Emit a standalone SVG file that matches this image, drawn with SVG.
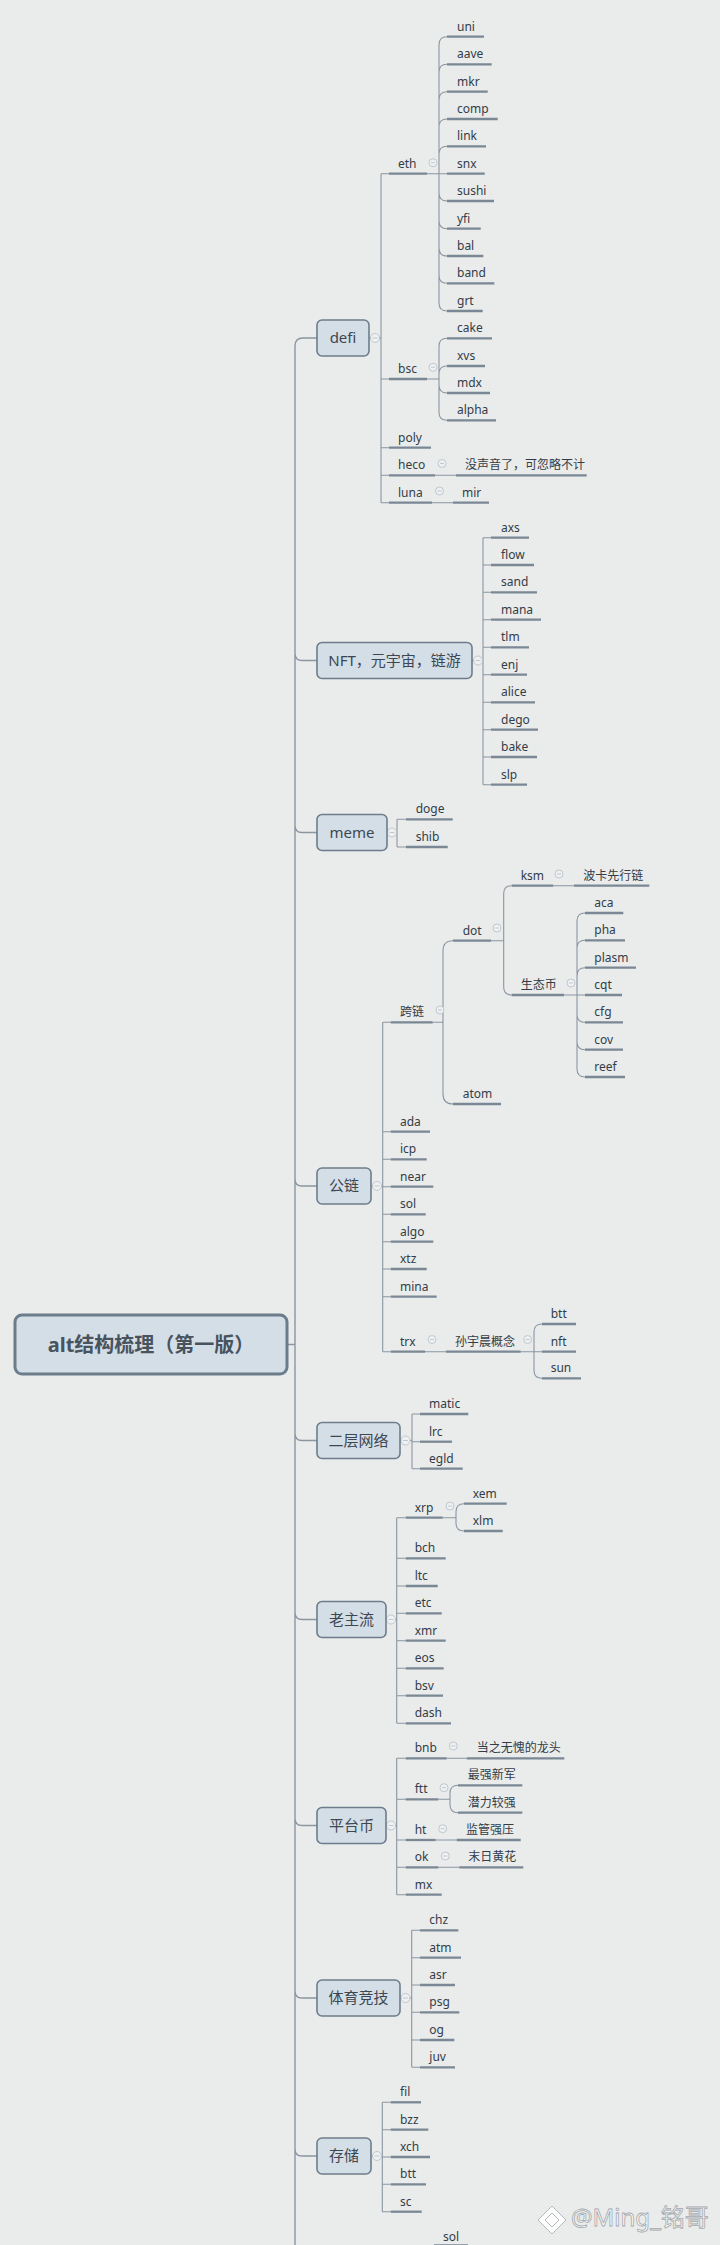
<svg xmlns="http://www.w3.org/2000/svg" width="720" height="2245" viewBox="0 0 720 2245">
<style>
.bg{fill:#eaebeb}
.box{fill:#d4dee7;stroke:#6d7d8b;stroke-width:1.6}
.rootbox{fill:#d4dee7;stroke:#6b7c8b;stroke-width:3}
.rt{font-family:"Noto Sans","Noto Sans CJK SC",sans-serif;font-size:20px;font-weight:bold;fill:#48535e;text-anchor:middle}
.bt{font-family:"Noto Sans","Noto Sans CJK SC",sans-serif;font-size:15px;fill:#3c4752;text-anchor:middle}
.lt{font-family:"Noto Sans","Noto Sans CJK SC",sans-serif;font-size:12px;fill:#333d47}
.ul{stroke:#7a8794;stroke-width:2.3;fill:none}
.cn{stroke:#8a96a1;stroke-width:1.1;fill:none}
.tk{stroke:#8a96a1;stroke-width:1.4;fill:none}
.cc{fill:#eef0f2;stroke:#b4bec7;stroke-width:0.8}
.cm{stroke:#b4bec7;stroke-width:0.8}
.wm{font-family:"Noto Sans","Noto Sans CJK SC",sans-serif;font-size:24px;fill:#ffffff;fill-opacity:0.85;stroke:#a3a9ae;stroke-width:0.8}
.wl{fill:#ffffff;fill-opacity:0.85;stroke:#a3a9ae;stroke-width:0.8}
</style>
<rect class="bg" x="0" y="0" width="720" height="2245"/>

<g id="connectors">
<path class="tk" d="M295 2245V346Q295 338 303 338H317 M287 1344.5H295 M295 653.5Q295 660.5 302 660.5H317 M295 825.5Q295 832.5 302 832.5H317 M295 1179Q295 1186 302 1186H317 M295 1433.5Q295 1440.5 302 1440.5H317 M295 1612.5Q295 1619.5 302 1619.5H317 M295 1818.5Q295 1825.5 302 1825.5H317 M295 1991Q295 1998 302 1998H317 M295 2149Q295 2156 302 2156H317"/>
<path class="cn" d="M369 338H381 M381 173.7V502.7 M381 173.7H389 M381 379H389 M381 447.7H389 M381 475.3H389 M381 502.7H389 M435 475.3H456 M432 502.7H453"/>
<path class="cn" d="M427 173.7H447 M439 173.7V44.7Q439 36.7 447 36.7 M439 173.7V72.3Q439 64.3 447 64.3 M439 173.7V99.7Q439 91.7 447 91.7 M439 173.7V127Q439 119 447 119 M439 173.7V154.3Q439 146.3 447 146.3 M439 173.7V193Q439 201 447 201 M439 173.7V220.7Q439 228.7 447 228.7 M439 173.7V248Q439 256 447 256 M439 173.7V275.3Q439 283.3 447 283.3 M439 173.7V303Q439 311 447 311"/>
<path class="cn" d="M427 379H439 M439 379V346.3Q439 338.3 447 338.3 M439 379V374Q439 366 447 366 M439 379V385Q439 393 447 393 M439 379V412.3Q439 420.3 447 420.3"/>
<path class="cn" d="M472 660.5H483 M483 537.7V784.7 M483 537.7H491 M483 565H491 M483 592.3H491 M483 619.7H491 M483 647.3H491 M483 674.7H491 M483 702.3H491 M483 729.7H491 M483 757H491 M483 784.7H491"/>
<path class="cn" d="M387 832.5H397 M397 819.3V847 M397 819.3H406 M397 847H406"/>
<path class="cn" d="M371 1186H382.7 M382.7 1022.3V1351.7 M382.7 1022.3H390.7 M382.7 1131.7H390.7 M382.7 1159.3H390.7 M382.7 1186.7H390.7 M382.7 1214.3H390.7 M382.7 1241.7H390.7 M382.7 1269H390.7 M382.7 1296.7H390.7 M382.7 1351.7H390.7"/>
<path class="cn" d="M432.7 1022.3H443 M443 1022.3V950.7Q443 940.7 453 940.7 M443 1022.3V1094Q443 1104 453 1104"/>
<path class="cn" d="M491 940.7H503.7 M503.7 940.7V893.7Q503.7 885.7 511.7 885.7 M503.7 940.7V987Q503.7 995 511.7 995 M553.3 885.7H574"/>
<path class="cn" d="M564 995H585 M577 995V921Q577 913 585 913 M577 995V948.3Q577 940.3 585 940.3 M577 995V975.7Q577 967.7 585 967.7 M577 995V1014.3Q577 1022.3 585 1022.3 M577 995V1041.7Q577 1049.7 585 1049.7 M577 995V1069Q577 1077 585 1077"/>
<path class="cn" d="M425 1351.7H446 M520.7 1351.7H542 M534 1351.7V1332Q534 1324 542 1324 M534 1351.7V1370.3Q534 1378.3 542 1378.3"/>
<path class="cn" d="M399.5 1440.5H412 M412 1414V1468.7 M412 1414H420 M412 1441.7H420 M412 1468.7H420"/>
<path class="cn" d="M386 1619.5H396.7 M396.7 1517.7V1723.3 M396.7 1517.7H405.7 M396.7 1558.3H405.7 M396.7 1586H405.7 M396.7 1613.3H405.7 M396.7 1640.7H405.7 M396.7 1668.3H405.7 M396.7 1695.7H405.7 M396.7 1723.3H405.7"/>
<path class="cn" d="M442.7 1517.7H456 M456 1517.7V1511.7Q456 1503.7 464 1503.7 M456 1517.7V1523Q456 1531 464 1531"/>
<path class="cn" d="M386 1825.5H396.7 M396.7 1758.3V1894.7 M396.7 1758.3H405.7 M396.7 1799.3H405.7 M396.7 1840H405.7 M396.7 1867.3H405.7 M396.7 1894.7H405.7 M446.7 1758.3H466.7 M435.7 1840H456.7 M438.3 1867.3H459.3"/>
<path class="cn" d="M438.3 1799.3H450 M450 1799.3V1793.3Q450 1785.3 458 1785.3 M450 1799.3V1804.7Q450 1812.7 458 1812.7"/>
<path class="cn" d="M400 1998H411.7 M411.7 1930.3V2067.3 M411.7 1930.3H420 M411.7 1957.7H420 M411.7 1985H420 M411.7 2012.3H420 M411.7 2040H420 M411.7 2067.3H420"/>
<path class="cn" d="M371 2156H382.3 M382.3 2102.3V2211.7 M382.3 2102.3H390.7 M382.3 2129.7H390.7 M382.3 2157H390.7 M382.3 2184.3H390.7 M382.3 2211.7H390.7"/>
</g>

<g id="collapse-icons">
<circle class="cc" cx="375" cy="338" r="4.5"/><path class="cm" d="M372.5 338H377.5"/>
<circle class="cc" cx="478" cy="660.5" r="4.5"/><path class="cm" d="M475.5 660.5H480.5"/>
<circle class="cc" cx="392" cy="832.5" r="4.5"/><path class="cm" d="M389.5 832.5H394.5"/>
<circle class="cc" cx="377" cy="1186" r="4.5"/><path class="cm" d="M374.5 1186H379.5"/>
<circle class="cc" cx="405.5" cy="1440.5" r="4.5"/><path class="cm" d="M403 1440.5H408"/>
<circle class="cc" cx="391" cy="1619.5" r="4.5"/><path class="cm" d="M388.5 1619.5H393.5"/>
<circle class="cc" cx="391" cy="1825.5" r="4.5"/><path class="cm" d="M388.5 1825.5H393.5"/>
<circle class="cc" cx="405.5" cy="1998" r="4.5"/><path class="cm" d="M403 1998H408"/>
<circle class="cc" cx="377" cy="2156" r="4.5"/><path class="cm" d="M374.5 2156H379.5"/>
<circle class="cc" cx="433" cy="162.7" r="4"/><path class="cm" d="M431 162.7H435"/>
<circle class="cc" cx="433" cy="367.3" r="4"/><path class="cm" d="M431 367.3H435"/>
<circle class="cc" cx="442" cy="463.5" r="4"/><path class="cm" d="M440 463.5H444"/>
<circle class="cc" cx="439.5" cy="491" r="4"/><path class="cm" d="M437.5 491H441.5"/>
<circle class="cc" cx="440" cy="1010" r="4"/><path class="cm" d="M438 1010H442"/>
<circle class="cc" cx="497" cy="928" r="4"/><path class="cm" d="M495 928H499"/>
<circle class="cc" cx="559" cy="874" r="4"/><path class="cm" d="M557 874H561"/>
<circle class="cc" cx="571" cy="983" r="4"/><path class="cm" d="M569 983H573"/>
<circle class="cc" cx="432" cy="1339.5" r="4"/><path class="cm" d="M430 1339.5H434"/>
<circle class="cc" cx="527.7" cy="1339.5" r="4"/><path class="cm" d="M525.7 1339.5H529.7"/>
<circle class="cc" cx="450" cy="1506" r="4"/><path class="cm" d="M448 1506H452"/>
<circle class="cc" cx="453.3" cy="1746" r="4"/><path class="cm" d="M451.3 1746H455.3"/>
<circle class="cc" cx="444" cy="1787.7" r="4"/><path class="cm" d="M442 1787.7H446"/>
<circle class="cc" cx="442.7" cy="1828.7" r="4"/><path class="cm" d="M440.7 1828.7H444.7"/>
<circle class="cc" cx="445.3" cy="1856" r="4"/><path class="cm" d="M443.3 1856H447.3"/>
</g>

<g id="root"><rect class="rootbox" x="15" y="1315" width="272" height="59" rx="7"/><text class="rt" x="151" y="1351.5">alt结构梳理（第一版）</text></g>

<g id="b-defi"><rect class="box" x="317" y="320" width="52" height="36" rx="5"/><text class="bt" x="343" y="343">defi</text></g>
<g id="b-nft"><rect class="box" x="317" y="642.5" width="155" height="36" rx="5"/><text class="bt" x="394.5" y="665.5">NFT，元宇宙，链游</text></g>
<g id="b-meme"><rect class="box" x="317" y="814.5" width="70" height="36" rx="5"/><text class="bt" x="352" y="837.5">meme</text></g>
<g id="b-gonglian"><rect class="box" x="317" y="1168" width="54" height="36" rx="5"/><text class="bt" x="344" y="1191">公链</text></g>
<g id="b-l2"><rect class="box" x="317" y="1422.5" width="83" height="36" rx="5"/><text class="bt" x="358.5" y="1445.5">二层网络</text></g>
<g id="b-old"><rect class="box" x="317" y="1601.5" width="69" height="36" rx="5"/><text class="bt" x="351.5" y="1624.5">老主流</text></g>
<g id="b-platform"><rect class="box" x="317" y="1807.5" width="69" height="36" rx="5"/><text class="bt" x="351.5" y="1830.5">平台币</text></g>
<g id="b-sport"><rect class="box" x="317" y="1980" width="83" height="36" rx="5"/><text class="bt" x="358.5" y="2003">体育竞技</text></g>
<g id="b-storage"><rect class="box" x="317" y="2138" width="54" height="36" rx="5"/><text class="bt" x="344" y="2161">存储</text></g>

<g id="defi-nodes">
<g id="n-eth"><text class="lt" x="398" y="167.7">eth</text><path class="ul" d="M389 173.7H427"/></g>
<g id="n-bsc"><text class="lt" x="398" y="373">bsc</text><path class="ul" d="M389 379H427"/></g>
<g id="n-poly"><text class="lt" x="398" y="441.7">poly</text><path class="ul" d="M389 447.7H431"/></g>
<g id="n-heco"><text class="lt" x="398" y="469.3">heco</text><path class="ul" d="M389 475.3H435"/></g>
<g id="n-luna"><text class="lt" x="398" y="496.7">luna</text><path class="ul" d="M389 502.7H432"/></g>
<g id="n-heco-note"><text class="lt" x="465" y="469.3">没声音了，可忽略不计</text><path class="ul" d="M456 475.3H586.7"/></g>
<g id="n-mir"><text class="lt" x="462" y="496.7">mir</text><path class="ul" d="M453 502.7H489"/></g>
<g id="n-uni"><text class="lt" x="457" y="30.7">uni</text><path class="ul" d="M447 36.7H484"/></g>
<g id="n-aave"><text class="lt" x="457" y="58.3">aave</text><path class="ul" d="M447 64.3H491.7"/></g>
<g id="n-mkr"><text class="lt" x="457" y="85.7">mkr</text><path class="ul" d="M447 91.7H487.7"/></g>
<g id="n-comp"><text class="lt" x="457" y="113">comp</text><path class="ul" d="M447 119H497.7"/></g>
<g id="n-link"><text class="lt" x="457" y="140.3">link</text><path class="ul" d="M447 146.3H486"/></g>
<g id="n-snx"><text class="lt" x="457" y="167.7">snx</text><path class="ul" d="M447 173.7H484.7"/></g>
<g id="n-sushi"><text class="lt" x="457" y="195">sushi</text><path class="ul" d="M447 201H494"/></g>
<g id="n-yfi"><text class="lt" x="457" y="222.7">yfi</text><path class="ul" d="M447 228.7H480.7"/></g>
<g id="n-bal"><text class="lt" x="457" y="250">bal</text><path class="ul" d="M447 256H483.3"/></g>
<g id="n-band"><text class="lt" x="457" y="277.3">band</text><path class="ul" d="M447 283.3H494.3"/></g>
<g id="n-grt"><text class="lt" x="457" y="305">grt</text><path class="ul" d="M447 311H482.7"/></g>
<g id="n-cake"><text class="lt" x="457" y="332.3">cake</text><path class="ul" d="M447 338.3H492"/></g>
<g id="n-xvs"><text class="lt" x="457" y="360">xvs</text><path class="ul" d="M447 366H485"/></g>
<g id="n-mdx"><text class="lt" x="457" y="387">mdx</text><path class="ul" d="M447 393H490"/></g>
<g id="n-alpha"><text class="lt" x="457" y="414.3">alpha</text><path class="ul" d="M447 420.3H496"/></g>
</g>

<g id="nft-nodes">
<g id="n-axs"><text class="lt" x="501" y="531.7">axs</text><path class="ul" d="M491 537.7H529"/></g>
<g id="n-flow"><text class="lt" x="501" y="559">flow</text><path class="ul" d="M491 565H534"/></g>
<g id="n-sand"><text class="lt" x="501" y="586.3">sand</text><path class="ul" d="M491 592.3H537"/></g>
<g id="n-mana"><text class="lt" x="501" y="613.7">mana</text><path class="ul" d="M491 619.7H541"/></g>
<g id="n-tlm"><text class="lt" x="501" y="641.3">tlm</text><path class="ul" d="M491 647.3H529"/></g>
<g id="n-enj"><text class="lt" x="501" y="668.7">enj</text><path class="ul" d="M491 674.7H527"/></g>
<g id="n-alice"><text class="lt" x="501" y="696.3">alice</text><path class="ul" d="M491 702.3H535"/></g>
<g id="n-dego"><text class="lt" x="501" y="723.7">dego</text><path class="ul" d="M491 729.7H538"/></g>
<g id="n-bake"><text class="lt" x="501" y="751">bake</text><path class="ul" d="M491 757H537"/></g>
<g id="n-slp"><text class="lt" x="501" y="778.7">slp</text><path class="ul" d="M491 784.7H527"/></g>
</g>

<g id="meme-nodes">
<g id="n-doge"><text class="lt" x="415.7" y="813.3">doge</text><path class="ul" d="M406 819.3H452.7"/></g>
<g id="n-shib"><text class="lt" x="415.7" y="841">shib</text><path class="ul" d="M406 847H447.7"/></g>
</g>

<g id="chain-nodes">
<g id="n-kualian"><text class="lt" x="400" y="1016.3">跨链</text><path class="ul" d="M390.7 1022.3H432.7"/></g>
<g id="n-dot"><text class="lt" x="462.7" y="934.7">dot</text><path class="ul" d="M453 940.7H491"/></g>
<g id="n-atom"><text class="lt" x="462.7" y="1098">atom</text><path class="ul" d="M453 1104H501"/></g>
<g id="n-ksm"><text class="lt" x="520.7" y="879.7">ksm</text><path class="ul" d="M511.7 885.7H553.3"/></g>
<g id="n-ksm-note"><text class="lt" x="583.3" y="879.7">波卡先行链</text><path class="ul" d="M574 885.7H649.3"/></g>
<g id="n-eco"><text class="lt" x="520.7" y="989">生态币</text><path class="ul" d="M511.7 995H564"/></g>
<g id="n-aca"><text class="lt" x="594.3" y="907">aca</text><path class="ul" d="M585 913H623.3"/></g>
<g id="n-pha"><text class="lt" x="594.3" y="934.3">pha</text><path class="ul" d="M585 940.3H625"/></g>
<g id="n-plasm"><text class="lt" x="594.3" y="961.7">plasm</text><path class="ul" d="M585 967.7H636"/></g>
<g id="n-cqt"><text class="lt" x="594.3" y="989">cqt</text><path class="ul" d="M585 995H622"/></g>
<g id="n-cfg"><text class="lt" x="594.3" y="1016.3">cfg</text><path class="ul" d="M585 1022.3H623"/></g>
<g id="n-cov"><text class="lt" x="594.3" y="1043.7">cov</text><path class="ul" d="M585 1049.7H623"/></g>
<g id="n-reef"><text class="lt" x="594.3" y="1071">reef</text><path class="ul" d="M585 1077H625"/></g>
<g id="n-ada"><text class="lt" x="400" y="1125.7">ada</text><path class="ul" d="M390.7 1131.7H430"/></g>
<g id="n-icp"><text class="lt" x="400" y="1153.3">icp</text><path class="ul" d="M390.7 1159.3H426.7"/></g>
<g id="n-near"><text class="lt" x="400" y="1180.7">near</text><path class="ul" d="M390.7 1186.7H433.3"/></g>
<g id="n-sol"><text class="lt" x="400" y="1208.3">sol</text><path class="ul" d="M390.7 1214.3H425.7"/></g>
<g id="n-algo"><text class="lt" x="400" y="1235.7">algo</text><path class="ul" d="M390.7 1241.7H433.3"/></g>
<g id="n-xtz"><text class="lt" x="400" y="1263">xtz</text><path class="ul" d="M390.7 1269H426.7"/></g>
<g id="n-mina"><text class="lt" x="400" y="1290.7">mina</text><path class="ul" d="M390.7 1296.7H436.7"/></g>
<g id="n-trx"><text class="lt" x="400" y="1345.7">trx</text><path class="ul" d="M390.7 1351.7H425"/></g>
<g id="n-sun-concept"><text class="lt" x="455" y="1345.7">孙宇晨概念</text><path class="ul" d="M446 1351.7H520.7"/></g>
<g id="n-btt1"><text class="lt" x="550.7" y="1318">btt</text><path class="ul" d="M542 1324H576"/></g>
<g id="n-nft"><text class="lt" x="550.7" y="1345.7">nft</text><path class="ul" d="M542 1351.7H576"/></g>
<g id="n-sun"><text class="lt" x="550.7" y="1372.3">sun</text><path class="ul" d="M542 1378.3H581"/></g>
</g>

<g id="l2-nodes">
<g id="n-matic"><text class="lt" x="429" y="1408">matic</text><path class="ul" d="M420 1414H468.3"/></g>
<g id="n-lrc"><text class="lt" x="429" y="1435.7">lrc</text><path class="ul" d="M420 1441.7H452"/></g>
<g id="n-egld"><text class="lt" x="429" y="1462.7">egld</text><path class="ul" d="M420 1468.7H462.7"/></g>
</g>

<g id="old-nodes">
<g id="n-xrp"><text class="lt" x="414.7" y="1511.7">xrp</text><path class="ul" d="M405.7 1517.7H442.7"/></g>
<g id="n-xem"><text class="lt" x="472.7" y="1497.7">xem</text><path class="ul" d="M464 1503.7H506.7"/></g>
<g id="n-xlm"><text class="lt" x="472.7" y="1525">xlm</text><path class="ul" d="M464 1531H502.7"/></g>
<g id="n-bch"><text class="lt" x="414.7" y="1552.3">bch</text><path class="ul" d="M405.7 1558.3H445.7"/></g>
<g id="n-ltc"><text class="lt" x="414.7" y="1580">ltc</text><path class="ul" d="M405.7 1586H437.7"/></g>
<g id="n-etc"><text class="lt" x="414.7" y="1607.3">etc</text><path class="ul" d="M405.7 1613.3H441.7"/></g>
<g id="n-xmr"><text class="lt" x="414.7" y="1634.7">xmr</text><path class="ul" d="M405.7 1640.7H445.7"/></g>
<g id="n-eos"><text class="lt" x="414.7" y="1662.3">eos</text><path class="ul" d="M405.7 1668.3H443.7"/></g>
<g id="n-bsv"><text class="lt" x="414.7" y="1689.7">bsv</text><path class="ul" d="M405.7 1695.7H443"/></g>
<g id="n-dash"><text class="lt" x="414.7" y="1717.3">dash</text><path class="ul" d="M405.7 1723.3H451"/></g>
</g>

<g id="platform-nodes">
<g id="n-bnb"><text class="lt" x="414.7" y="1752.3">bnb</text><path class="ul" d="M405.7 1758.3H446.7"/></g>
<g id="n-bnb-note"><text class="lt" x="476.7" y="1752.3">当之无愧的龙头</text><path class="ul" d="M466.7 1758.3H564.3"/></g>
<g id="n-ftt"><text class="lt" x="414.7" y="1793.3">ftt</text><path class="ul" d="M405.7 1799.3H438.3"/></g>
<g id="n-ftt-a"><text class="lt" x="467.7" y="1779.3">最强新军</text><path class="ul" d="M458 1785.3H522.3"/></g>
<g id="n-ftt-b"><text class="lt" x="467.7" y="1806.7">潜力较强</text><path class="ul" d="M458 1812.7H522.3"/></g>
<g id="n-ht"><text class="lt" x="414.7" y="1834">ht</text><path class="ul" d="M405.7 1840H435.7"/></g>
<g id="n-ht-note"><text class="lt" x="466" y="1834">监管强压</text><path class="ul" d="M456.7 1840H520.7"/></g>
<g id="n-ok"><text class="lt" x="414.7" y="1861.3">ok</text><path class="ul" d="M405.7 1867.3H438.3"/></g>
<g id="n-ok-note"><text class="lt" x="468.3" y="1861.3">末日黄花</text><path class="ul" d="M459.3 1867.3H523.3"/></g>
<g id="n-mx"><text class="lt" x="414.7" y="1888.7">mx</text><path class="ul" d="M405.7 1894.7H441.7"/></g>
</g>

<g id="sport-nodes">
<g id="n-chz"><text class="lt" x="429.3" y="1924.3">chz</text><path class="ul" d="M420 1930.3H458.3"/></g>
<g id="n-atm"><text class="lt" x="429.3" y="1951.7">atm</text><path class="ul" d="M420 1957.7H461"/></g>
<g id="n-asr"><text class="lt" x="429.3" y="1979">asr</text><path class="ul" d="M420 1985H455"/></g>
<g id="n-psg"><text class="lt" x="429.3" y="2006.3">psg</text><path class="ul" d="M420 2012.3H459.3"/></g>
<g id="n-og"><text class="lt" x="429.3" y="2034">og</text><path class="ul" d="M420 2040H454.3"/></g>
<g id="n-juv"><text class="lt" x="429.3" y="2061.3">juv</text><path class="ul" d="M420 2067.3H455"/></g>
</g>

<g id="storage-nodes">
<g id="n-fil"><text class="lt" x="400" y="2096.3">fil</text><path class="ul" d="M390.7 2102.3H421"/></g>
<g id="n-bzz"><text class="lt" x="400" y="2123.7">bzz</text><path class="ul" d="M390.7 2129.7H428.3"/></g>
<g id="n-xch"><text class="lt" x="400" y="2151">xch</text><path class="ul" d="M390.7 2157H430"/></g>
<g id="n-btt2"><text class="lt" x="400" y="2178.3">btt</text><path class="ul" d="M390.7 2184.3H426"/></g>
<g id="n-sc"><text class="lt" x="400" y="2205.7">sc</text><path class="ul" d="M390.7 2211.7H421.7"/></g>
</g>

<g id="n-sol-bottom"><text class="lt" x="443" y="2241">sol</text><path class="ul" d="M434 2245.5H468"/></g>

<g id="watermark">
<path class="wl" d="M552 2206L566 2220L552 2234L538 2220Z M552 2213L559 2220L552 2227L545 2220Z"/>
<text class="wm" x="571" y="2226">@Ming_铭哥</text>
</g>
</svg>
